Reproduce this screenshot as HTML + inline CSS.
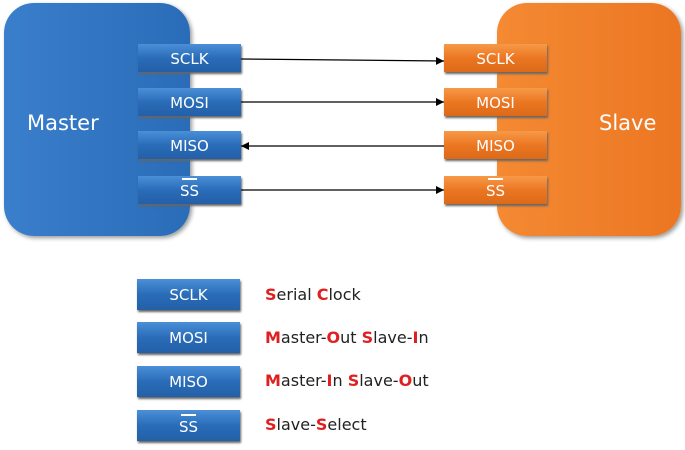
<!DOCTYPE html>
<html><head><style>
body{margin:0;width:685px;height:450px;background:#fff;position:relative;overflow:hidden;font-family:"DejaVu Sans","Liberation Sans",sans-serif}
.box{position:absolute;border-radius:30px;color:#fff;font-size:21px}
.m{left:4px;top:3px;width:186px;height:233px;background:linear-gradient(90deg,#3a7fcc,#2a6cb8);box-shadow:2px 2px 4px #999}
.s{left:497px;top:3px;width:184px;height:233px;background:linear-gradient(90deg,#f48a33,#ec7622);box-shadow:2px 2px 4px #999}
.p{position:absolute;width:103px;height:28px;color:#fff;font-size:15px;text-align:center;line-height:30px;box-shadow:1px 2px 2px #666}
.b{background:linear-gradient(180deg,#4a8fd8,#2a6cb8 50%,#2360a8)}
.o{background:linear-gradient(180deg,#f69a48,#ec7622 50%,#dc6a18)}
.ov{position:relative}
.ov:before{content:"";position:absolute;left:2px;right:2px;top:-4px;height:2px;background:#fff}
.t{position:absolute;left:265px;font-size:16px;color:#222}
.t b{color:#e02020}
</style></head><body>
<div class="box m"><span style="position:absolute;left:23px;top:108px">Master</span></div>
<div class="box s"><span style="position:absolute;left:102px;top:108px">Slave</span></div>
<div class="p b" style="left:138px;top:44px">SCLK</div>
<div class="p b" style="left:138px;top:88px">MOSI</div>
<div class="p b" style="left:138px;top:131px">MISO</div>
<div class="p b" style="left:138px;top:176px"><span class="ov">SS</span></div>
<div class="p o" style="left:444px;top:44px">SCLK</div>
<div class="p o" style="left:444px;top:88px">MOSI</div>
<div class="p o" style="left:444px;top:131px">MISO</div>
<div class="p o" style="left:444px;top:176px"><span class="ov">SS</span></div>
<svg style="position:absolute;left:0;top:0" width="685" height="450">
<defs><marker id="a" markerWidth="8" markerHeight="8" refX="8" refY="4" orient="auto" markerUnits="userSpaceOnUse"><path d="M0,0L8,4L0,8z" fill="#000"/></marker></defs>
<g stroke="#000" stroke-width="1.3">
<line x1="241" y1="59" x2="444" y2="61" marker-end="url(#a)"/>
<line x1="241" y1="102" x2="444" y2="102" marker-end="url(#a)"/>
<line x1="444" y1="146" x2="241" y2="146" marker-end="url(#a)"/>
<line x1="241" y1="190" x2="444" y2="190" marker-end="url(#a)"/>
</g></svg>
<div class="p b" style="left:137px;top:279px;height:31px;line-height:32px">SCLK</div>
<div class="p b" style="left:137px;top:322px;height:31px;line-height:32px">MOSI</div>
<div class="p b" style="left:137px;top:366px;height:31px;line-height:32px">MISO</div>
<div class="p b" style="left:137px;top:410px;height:31px;line-height:34px"><span class="ov">SS</span></div>
<div class="t" style="top:285px"><b>S</b>erial <b>C</b>lock</div>
<div class="t" style="top:328px"><b>M</b>aster-<b>O</b>ut <b>S</b>lave-<b>I</b>n</div>
<div class="t" style="top:371px"><b>M</b>aster-<b>I</b>n <b>S</b>lave-<b>O</b>ut</div>
<div class="t" style="top:415px"><b>S</b>lave-<b>S</b>elect</div>
</body></html>
